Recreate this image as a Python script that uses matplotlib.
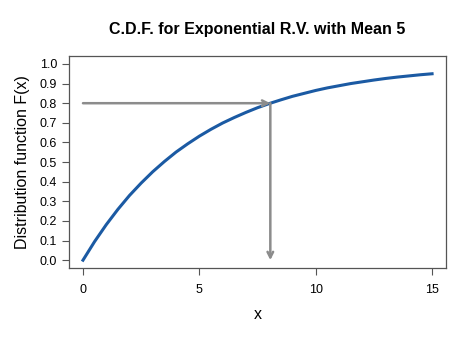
import matplotlib.pyplot as plt

plt.rcParams['font.family'] = ['Liberation Sans', 'DejaVu Sans']

# points
x_vals = [0, 0.5, 1, 1.5, 2, 2.5, 3, 3.5, 4, 4.5, 5, 5.5, 6, 6.5, 7, 7.5,
          8, 8.5, 9, 9.5, 10, 10.5, 11, 11.5, 12, 12.5, 13, 13.5, 14, 14.5, 15]
cdf_vals = [0.000, 0.095, 0.181, 0.259, 0.330, 0.393, 0.451, 0.503, 0.551,
            0.593, 0.632, 0.667, 0.699, 0.727, 0.753, 0.777, 0.798, 0.817,
            0.835, 0.850, 0.865, 0.878, 0.889, 0.900, 0.909, 0.918, 0.926,
            0.933, 0.939, 0.945, 0.950]

prob_level = 0.8
quantile_x = 8.05
y_ticks = [0.0, 0.1, 0.2, 0.3, 0.4, 0.5, 0.6, 0.7, 0.8, 0.9, 1.0]
x_ticks = [0, 5, 10, 15]

fig = plt.figure(figsize=(4.74, 3.38), dpi=100)
ax = fig.add_axes([0.1456, 0.207, 0.7954, 0.627])

ax.plot(x_vals, cdf_vals, color='#1b5aa3', lw=2.2, zorder=3)

grey = '#8c8c8c'
ax.annotate('', xy=(quantile_x, prob_level), xytext=(0, prob_level),
            arrowprops=dict(arrowstyle='->', color=grey, lw=1.8,
                            mutation_scale=10, shrinkA=0, shrinkB=0))
ax.annotate('', xy=(quantile_x, 0), xytext=(quantile_x, prob_level),
            arrowprops=dict(arrowstyle='->', color=grey, lw=1.8,
                            mutation_scale=10, shrinkA=0, shrinkB=0))

ax.set_xlim(-0.6, 15.6)
ax.set_ylim(-0.04, 1.04)
ax.set_xticks(x_ticks)
ax.set_yticks(y_ticks)
ax.set_yticklabels(['%.1f' % v for v in y_ticks])
ax.tick_params(axis='both', length=5, width=0.8, color='#555555', labelsize=9, pad=3.5)
ax.tick_params(axis='x', pad=6.5)
for s in ax.spines.values():
    s.set_color('#555555')
    s.set_linewidth(0.9)

ax.set_title('C.D.F. for Exponential R.V. with Mean 5', fontsize=11.5,
             fontweight='bold', pad=16)
ax.set_xlabel('x', fontsize=11.5, labelpad=8)
ax.set_ylabel('Distribution function F(x)', fontsize=11.5, labelpad=7)

fig.savefig('out.png', dpi=100)
